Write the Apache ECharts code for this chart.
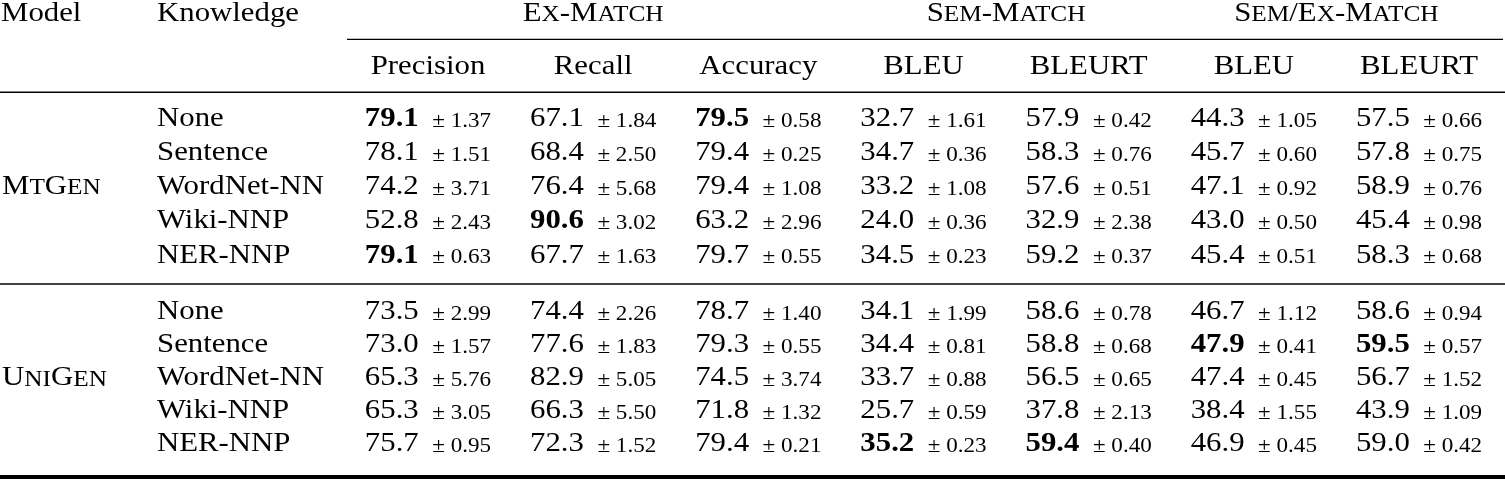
<!DOCTYPE html>
<html>
<head>
<meta charset="utf-8">
<script src="https://cdn.jsdelivr.net/npm/echarts@6/dist/echarts.min.js"></script>
<style>html,body{margin:0;padding:0;background:#fff;}#c{width:1505px;height:479px;}</style>
</head>
<body>
<div id="c"></div>
<script>
// ---------- data ----------
const models = ['MtGen', 'UniGen'];
const knowledge = ['None', 'Sentence', 'WordNet-NN', 'Wiki-NNP', 'NER-NNP'];
const metricHeaders = ['Precision', 'Recall', 'Accuracy', 'BLEU', 'BLEURT', 'BLEU', 'BLEURT'];
const groupHeaders = ['Ex-Match', 'Sem-Match', 'Sem/Ex-Match'];
const groupSpans = [[0, 2], [3, 4], [5, 6]];

const mtgenMean = [
  [79.1, 67.1, 79.5, 32.7, 57.9, 44.3, 57.5],
  [78.1, 68.4, 79.4, 34.7, 58.3, 45.7, 57.8],
  [74.2, 76.4, 79.4, 33.2, 57.6, 47.1, 58.9],
  [52.8, 90.6, 63.2, 24.0, 32.9, 43.0, 45.4],
  [79.1, 67.7, 79.7, 34.5, 59.2, 45.4, 58.3]
];
const mtgenStd = [
  [1.37, 1.84, 0.58, 1.61, 0.42, 1.05, 0.66],
  [1.51, 2.50, 0.25, 0.36, 0.76, 0.60, 0.75],
  [3.71, 5.68, 1.08, 1.08, 0.51, 0.92, 0.76],
  [2.43, 3.02, 2.96, 0.36, 2.38, 0.50, 0.98],
  [0.63, 1.63, 0.55, 0.23, 0.37, 0.51, 0.68]
];
const unigenMean = [
  [73.5, 74.4, 78.7, 34.1, 58.6, 46.7, 58.6],
  [73.0, 77.6, 79.3, 34.4, 58.8, 47.9, 59.5],
  [65.3, 82.9, 74.5, 33.7, 56.5, 47.4, 56.7],
  [65.3, 66.3, 71.8, 25.7, 37.8, 38.4, 43.9],
  [75.7, 72.3, 79.4, 35.2, 59.4, 46.9, 59.0]
];
const unigenStd = [
  [2.99, 2.26, 1.40, 1.99, 0.78, 1.12, 0.94],
  [1.57, 1.83, 0.55, 0.81, 0.68, 0.41, 0.57],
  [5.76, 5.05, 3.74, 0.88, 0.65, 0.45, 1.52],
  [3.05, 5.50, 1.32, 0.59, 2.13, 1.55, 1.09],
  [0.95, 1.52, 0.21, 0.23, 0.40, 0.45, 0.42]
];
// [modelIndex, rowIndex, colIndex] of bold (best) entries
const bestCells = [[0,0,0],[0,0,2],[0,3,1],[0,4,0],[1,1,5],[1,1,6],[1,4,3],[1,4,4]];

// ---------- styling ----------
const FONT = 'Liberation Serif';
const SX = 1.1;
const BIG = 28, SMALL = 21, SC = 23;
const rich = {
  v:  {fontFamily: FONT, fontSize: BIG, fontWeight: 'normal', verticalAlign: 'bottom', fill: '#000'},
  vb: {fontFamily: FONT, fontSize: BIG, fontWeight: 'bold', verticalAlign: 'bottom', fill: '#000'},
  s:  {fontFamily: FONT, fontSize: SMALL, fontWeight: 'normal', verticalAlign: 'bottom', fill: '#000', padding: [0, 0, 1, 0]},
  B:  {fontFamily: FONT, fontSize: BIG, verticalAlign: 'bottom', fill: '#000'},
  S:  {fontFamily: FONT, fontSize: SC, verticalAlign: 'bottom', fill: '#000', padding: [0, 0, 1, 0]}
};

function smallCaps(str) {
  let out = '', cur = null, buf = '';
  for (const ch of str) {
    const t = (ch >= 'a' && ch <= 'z') ? 'S' : 'B';
    if (t !== cur && buf) { out += '{' + cur + '|' + buf + '}'; buf = ''; }
    cur = t; buf += (t === 'S' ? ch.toUpperCase() : ch);
  }
  if (buf) out += '{' + cur + '|' + buf + '}';
  return out;
}

function isBest(m, r, c) {
  return bestCells.some(b => b[0] === m && b[1] === r && b[2] === c);
}

function cellData(m, means, stds) {
  const d = [];
  means.forEach((row, r) => row.forEach((v, c) => {
    d.push([c, r, v, stds[r][c], isBest(m, r, c) ? 1 : 0]);
  }));
  return d;
}

function cellRender(params, api) {
  const p = api.coord([api.value(0), api.value(1)]);
  const b = api.value(4) ? 'vb' : 'v';
  const txt = '{' + b + '|' + api.value(2).toFixed(1) + ' }{s| \u00B1 ' + api.value(3).toFixed(2) + '}';
  return {type: 'text', x: p[0], y: p[1] + 1, scaleX: SX,
    style: {text: txt, rich: rich, align: 'center', verticalAlign: 'middle', fill: '#000', fontFamily: FONT, fontSize: BIG}};
}

function knowRender(params, api) {
  const p = api.coord([0, api.value(1)]);
  return {type: 'text', x: 157, y: p[1] + 1, scaleX: SX,
    style: {text: '{B|' + knowledge[api.value(1)] + '}', rich: rich, align: 'left', verticalAlign: 'middle', fontFamily: FONT, fontSize: BIG}};
}

function modelRender(mi) {
  return function (params, api) {
    const p = api.coord([0, api.value(1)]);
    return {type: 'text', x: 2, y: p[1] + 1, scaleX: SX,
      style: {text: smallCaps(models[mi]), rich: rich, align: 'left', verticalAlign: 'middle', fontFamily: FONT, fontSize: BIG}};
  };
}

function headRender(params, api) {
  const p = api.coord([api.value(0), 0]);
  return {type: 'text', x: p[0], y: 67, scaleX: SX,
    style: {text: '{B|' + metricHeaders[api.value(0)] + '}', rich: rich, align: 'center', verticalAlign: 'middle', fontFamily: FONT, fontSize: BIG}};
}

function groupRender(params, api) {
  const a = api.coord([api.value(0), 0]), b = api.coord([api.value(1), 0]);
  return {type: 'text', x: (a[0] + b[0]) / 2, y: 13.5, scaleX: SX,
    style: {text: smallCaps(groupHeaders[params.dataIndex]), rich: rich, align: 'center', verticalAlign: 'middle', fontFamily: FONT, fontSize: BIG}};
}

const chart = echarts.init(document.getElementById('c'), null, {renderer: 'canvas'});
const hiddenAxis = {show: false};
chart.setOption({
  animation: false,
  backgroundColor: '#fff',
  textStyle: {fontFamily: FONT},
  grid: [
    {left: 345.4, top: 100.4, width: 1156.2, height: 171},
    {left: 345.4, top: 294.5, width: 1156.2, height: 165}
  ],
  xAxis: [
    Object.assign({type: 'category', gridIndex: 0, data: metricHeaders}, hiddenAxis),
    Object.assign({type: 'category', gridIndex: 1, data: metricHeaders}, hiddenAxis)
  ],
  yAxis: [
    Object.assign({type: 'category', gridIndex: 0, data: knowledge, inverse: true}, hiddenAxis),
    Object.assign({type: 'category', gridIndex: 1, data: knowledge, inverse: true}, hiddenAxis)
  ],
  series: [
    {type: 'custom', xAxisIndex: 0, yAxisIndex: 0, renderItem: cellRender, data: cellData(0, mtgenMean, mtgenStd), silent: true},
    {type: 'custom', xAxisIndex: 1, yAxisIndex: 1, renderItem: cellRender, data: cellData(1, unigenMean, unigenStd), silent: true},
    {type: 'custom', xAxisIndex: 0, yAxisIndex: 0, renderItem: knowRender, data: knowledge.map((k, i) => [0, i]), silent: true},
    {type: 'custom', xAxisIndex: 1, yAxisIndex: 1, renderItem: knowRender, data: knowledge.map((k, i) => [0, i]), silent: true},
    {type: 'custom', xAxisIndex: 0, yAxisIndex: 0, renderItem: modelRender(0), data: [[0, 2]], silent: true},
    {type: 'custom', xAxisIndex: 1, yAxisIndex: 1, renderItem: modelRender(1), data: [[0, 2]], silent: true},
    {type: 'custom', xAxisIndex: 0, yAxisIndex: 0, renderItem: headRender, data: metricHeaders.map((h, i) => [i, 0]), silent: true},
    {type: 'custom', xAxisIndex: 0, yAxisIndex: 0, renderItem: groupRender, data: groupSpans, silent: true}
  ],
  graphic: [
    {type: 'text', x: 1, y: 13.5, scaleX: SX, style: {text: '{B|Model}', rich: rich, align: 'left', verticalAlign: 'middle', fontFamily: FONT, fontSize: BIG}},
    {type: 'text', x: 157, y: 13.5, scaleX: SX, style: {text: '{B|Knowledge}', rich: rich, align: 'left', verticalAlign: 'middle', fontFamily: FONT, fontSize: BIG}},
    {type: 'line', shape: {x1: 347, y1: 39.3, x2: 1503, y2: 39.3}, style: {stroke: '#000', lineWidth: 1.3}},
    {type: 'line', shape: {x1: 0, y1: 92.3, x2: 1505, y2: 92.3}, style: {stroke: '#000', lineWidth: 1.4}},
    {type: 'line', shape: {x1: 0, y1: 284, x2: 1505, y2: 284}, style: {stroke: '#000', lineWidth: 1.4}},
    {type: 'line', shape: {x1: 0, y1: 477, x2: 1505, y2: 477}, style: {stroke: '#000', lineWidth: 4}}
  ]
});
</script>
</body>
</html>
